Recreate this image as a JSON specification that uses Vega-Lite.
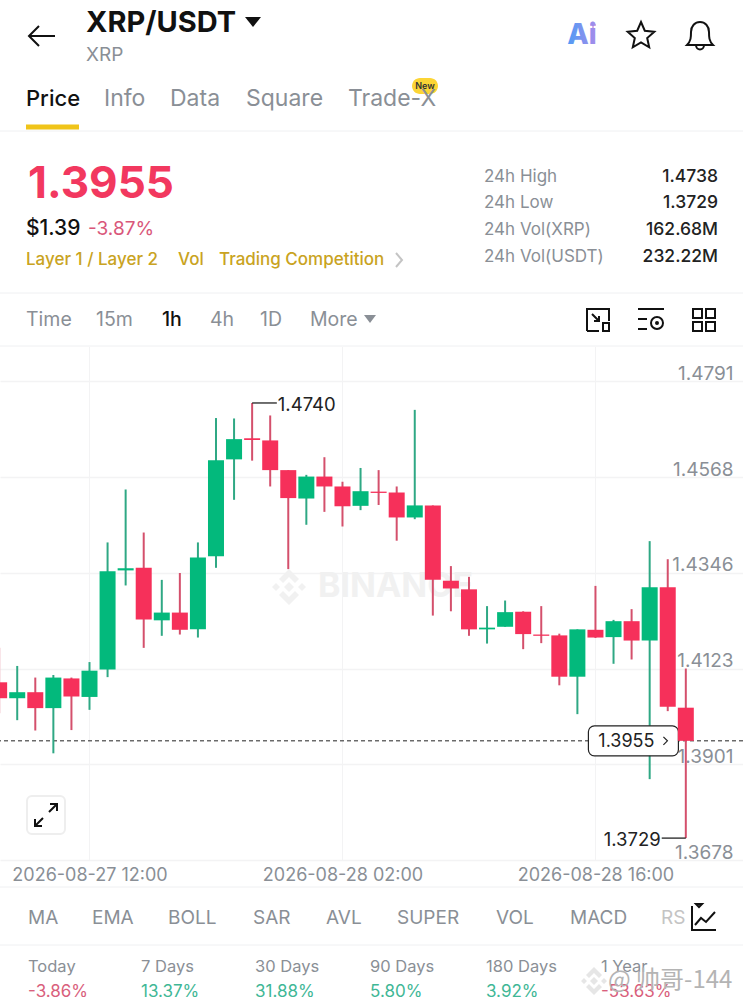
{
  "$schema": "https://vega.github.io/schema/vega-lite/v6.json",
  "description": "XRP/USDT 1h candles in a trading app screen.",
  "width": 743,
  "height": 1006,
  "padding": 0,
  "autosize": {"type": "none"},
  "background": "white",
  "config": {"view": {"stroke": null}, "text": {"font": "Inter"}},
  "datasets": {
    "candles": [
      {"time":"2026-08-27T07:00:00Z","open":1.4091,"close":1.4054,"high":1.4171,"low":1.4019,"dir":"down"},
      {"time":"2026-08-27T08:00:00Z","open":1.4054,"close":1.4068,"high":1.4129,"low":1.4003,"dir":"up"},
      {"time":"2026-08-27T09:00:00Z","open":1.4068,"close":1.4031,"high":1.4102,"low":1.3979,"dir":"down"},
      {"time":"2026-08-27T10:00:00Z","open":1.4031,"close":1.4102,"high":1.4108,"low":1.3926,"dir":"up"},
      {"time":"2026-08-27T11:00:00Z","open":1.4100,"close":1.4058,"high":1.4102,"low":1.3980,"dir":"down"},
      {"time":"2026-08-27T12:00:00Z","open":1.4057,"close":1.4118,"high":1.4138,"low":1.4027,"dir":"up"},
      {"time":"2026-08-27T13:00:00Z","open":1.4121,"close":1.4349,"high":1.4416,"low":1.4103,"dir":"up"},
      {"time":"2026-08-27T14:00:00Z","open":1.4351,"close":1.4356,"high":1.4539,"low":1.4316,"dir":"up"},
      {"time":"2026-08-27T15:00:00Z","open":1.4357,"close":1.4237,"high":1.4439,"low":1.4171,"dir":"down"},
      {"time":"2026-08-27T16:00:00Z","open":1.4235,"close":1.4253,"high":1.4329,"low":1.4199,"dir":"up"},
      {"time":"2026-08-27T17:00:00Z","open":1.4253,"close":1.4213,"high":1.4345,"low":1.4202,"dir":"down"},
      {"time":"2026-08-27T18:00:00Z","open":1.4214,"close":1.4381,"high":1.4416,"low":1.4195,"dir":"up"},
      {"time":"2026-08-27T19:00:00Z","open":1.4384,"close":1.4607,"high":1.4705,"low":1.4357,"dir":"up"},
      {"time":"2026-08-27T20:00:00Z","open":1.4609,"close":1.4656,"high":1.4704,"low":1.4515,"dir":"up"},
      {"time":"2026-08-27T21:00:00Z","open":1.4658,"close":1.4654,"high":1.4740,"low":1.4606,"dir":"down"},
      {"time":"2026-08-27T22:00:00Z","open":1.4653,"close":1.4584,"high":1.4711,"low":1.4546,"dir":"down"},
      {"time":"2026-08-27T23:00:00Z","open":1.4584,"close":1.4519,"high":1.4584,"low":1.4354,"dir":"down"},
      {"time":"2026-08-28T00:00:00Z","open":1.4518,"close":1.4569,"high":1.4573,"low":1.4457,"dir":"up"},
      {"time":"2026-08-28T01:00:00Z","open":1.4569,"close":1.4546,"high":1.4614,"low":1.4487,"dir":"down"},
      {"time":"2026-08-28T02:00:00Z","open":1.4546,"close":1.4500,"high":1.4557,"low":1.4453,"dir":"down"},
      {"time":"2026-08-28T03:00:00Z","open":1.4501,"close":1.4535,"high":1.4589,"low":1.4491,"dir":"up"},
      {"time":"2026-08-28T04:00:00Z","open":1.4534,"close":1.4531,"high":1.4584,"low":1.4503,"dir":"down"},
      {"time":"2026-08-28T05:00:00Z","open":1.4532,"close":1.4474,"high":1.4546,"low":1.4420,"dir":"down"},
      {"time":"2026-08-28T06:00:00Z","open":1.4474,"close":1.4502,"high":1.4724,"low":1.4470,"dir":"up"},
      {"time":"2026-08-28T07:00:00Z","open":1.4502,"close":1.4329,"high":1.4502,"low":1.4246,"dir":"down"},
      {"time":"2026-08-28T08:00:00Z","open":1.4327,"close":1.4309,"high":1.4361,"low":1.4256,"dir":"down"},
      {"time":"2026-08-28T09:00:00Z","open":1.4307,"close":1.4214,"high":1.4336,"low":1.4199,"dir":"down"},
      {"time":"2026-08-28T10:00:00Z","open":1.4214,"close":1.4218,"high":1.4268,"low":1.4181,"dir":"up"},
      {"time":"2026-08-28T11:00:00Z","open":1.4220,"close":1.4254,"high":1.4281,"low":1.4220,"dir":"up"},
      {"time":"2026-08-28T12:00:00Z","open":1.4255,"close":1.4203,"high":1.4256,"low":1.4168,"dir":"down"},
      {"time":"2026-08-28T13:00:00Z","open":1.4202,"close":1.4199,"high":1.4268,"low":1.4182,"dir":"down"},
      {"time":"2026-08-28T14:00:00Z","open":1.4200,"close":1.4104,"high":1.4204,"low":1.4084,"dir":"down"},
      {"time":"2026-08-28T15:00:00Z","open":1.4104,"close":1.4214,"high":1.4214,"low":1.4017,"dir":"up"},
      {"time":"2026-08-28T16:00:00Z","open":1.4213,"close":1.4195,"high":1.4315,"low":1.4194,"dir":"down"},
      {"time":"2026-08-28T17:00:00Z","open":1.4196,"close":1.4233,"high":1.4236,"low":1.4134,"dir":"up"},
      {"time":"2026-08-28T18:00:00Z","open":1.4233,"close":1.4188,"high":1.4261,"low":1.4144,"dir":"down"},
      {"time":"2026-08-28T19:00:00Z","open":1.4188,"close":1.4312,"high":1.4419,"low":1.3866,"dir":"up"},
      {"time":"2026-08-28T20:00:00Z","open":1.4312,"close":1.4034,"high":1.4377,"low":1.4024,"dir":"down"},
      {"time":"2026-08-28T21:00:00Z","open":1.4032,"close":1.3955,"high":1.4123,"low":1.3729,"dir":"down"}
    ],
    "ticks": [
      {"time":"2026-08-27T12:00:00Z"},
      {"time":"2026-08-28T02:00:00Z"},
      {"time":"2026-08-28T16:00:00Z"}
    ],
    "extremes": [
      {"time":"2026-08-27T21:00:00Z","labelTime":"2026-08-27T22:22:00Z","price":1.4740,"label":"1.4740","side":"high"},
      {"time":"2026-08-28T21:00:00Z","labelTime":"2026-08-28T19:40:00Z","price":1.3729,"label":"1.3729","side":"low"}
    ],
    "last": [
      {"time":"2026-08-28T18:06:00Z","price":1.3955,"label":"1.3955"}
    ],
    "lines": [
      {"row":6,"col":-1,"colEnd":45,"role":"line"},
      {"row":14,"col":-1,"colEnd":45,"role":"line"},
      {"row":16,"col":-1,"colEnd":45,"role":"line"},
      {"row":19,"col":-1,"colEnd":45,"role":"line"},
      {"row":21,"col":-1,"colEnd":45,"role":"line"},
      {"row":5,"col":0,"colEnd":4,"role":"accent"}
    ],
    "icons": [
      {"icon":"back","col":2,"row":1,"role":"ink"},
      {"icon":"star","col":39,"row":1,"role":"ink"},
      {"icon":"bell","col":42,"row":1,"role":"ink"},
      {"icon":"plus","col":34,"row":1,"role":"aiPlus"},
      {"icon":"chevron","col":28,"row":13,"role":"indFade"},
      {"icon":"panel","col":36,"row":15,"role":"ink"},
      {"icon":"settings","col":40,"row":15,"role":"ink"},
      {"icon":"grid","col":43,"row":15,"role":"ink"},
      {"icon":"box","col":3,"row":18,"role":"box"},
      {"icon":"expand","col":3,"row":18,"role":"ink"},
      {"icon":"chart","col":43,"row":20,"role":"ink"}
    ],
    "solids": [
      {"icon":"caret","col":18,"row":0,"role":"ink"},
      {"icon":"caretSmall","col":26,"row":15,"role":"tf"},
      {"icon":"badge","col":29,"row":3,"role":"badge"},
      {"icon":"logo","col":21,"row":17,"role":"wmBig"},
      {"icon":"logoSmall","col":35,"row":23,"role":"wmLogo"}
    ],
    "texts": [
      {"text":"XRP/USDT","col":5,"row":0,"role":"title"},
      {"text":"XRP","col":5,"row":2,"role":"sub"},
      {"text":"Price","col":0,"row":4,"role":"tabOn"},
      {"text":"Info","col":9,"row":4,"role":"tab"},
      {"text":"Data","col":13,"row":4,"role":"tab"},
      {"text":"Square","col":17,"row":4,"role":"tab"},
      {"text":"Trade-X","col":25,"row":4,"role":"tab"},
      {"text":"1.3955","col":1,"row":8,"role":"big"},
      {"text":"$1.39","col":0,"row":10,"role":"price"},
      {"text":"-3.87%","col":6,"row":10,"role":"chg"},
      {"text":"Layer 1 / Layer 2","col":0,"row":13,"role":"chip"},
      {"text":"Vol","col":14,"row":13,"role":"chip"},
      {"text":"Trading Competition","col":16,"row":13,"role":"chip"},
      {"text":"24h High","col":30,"row":7,"role":"stat"},
      {"text":"24h Low","col":30,"row":9,"role":"stat"},
      {"text":"24h Vol(XRP)","col":30,"row":11,"role":"stat"},
      {"text":"24h Vol(USDT)","col":30,"row":12,"role":"stat"},
      {"text":"Time","col":0,"row":15,"role":"tf"},
      {"text":"15m","col":8,"row":15,"role":"tf"},
      {"text":"1h","col":11,"row":15,"role":"tfOn"},
      {"text":"4h","col":15,"row":15,"role":"tf"},
      {"text":"1D","col":20,"row":15,"role":"tf"},
      {"text":"More","col":22,"row":15,"role":"tf"},
      {"text":"BINANCE","col":23,"row":17,"role":"wmBig"},
      {"text":"MA","col":1,"row":20,"role":"ind"},
      {"text":"EMA","col":7,"row":20,"role":"ind"},
      {"text":"BOLL","col":12,"row":20,"role":"ind"},
      {"text":"SAR","col":18,"row":20,"role":"ind"},
      {"text":"AVL","col":24,"row":20,"role":"ind"},
      {"text":"SUPER","col":27,"row":20,"role":"ind"},
      {"text":"VOL","col":32,"row":20,"role":"ind"},
      {"text":"MACD","col":33,"row":20,"role":"ind"},
      {"text":"RS","col":41,"row":20,"role":"indFade"},
      {"text":"Today","col":1,"row":22,"role":"period"},
      {"text":"7 Days","col":10,"row":22,"role":"period"},
      {"text":"30 Days","col":19,"row":22,"role":"period"},
      {"text":"90 Days","col":26,"row":22,"role":"period"},
      {"text":"180 Days","col":31,"row":22,"role":"period"},
      {"text":"1 Year","col":37,"row":22,"role":"period"},
      {"text":"-3.86%","col":1,"row":24,"role":"neg"},
      {"text":"13.37%","col":10,"row":24,"role":"pos"},
      {"text":"31.88%","col":19,"row":24,"role":"pos"},
      {"text":"5.80%","col":26,"row":24,"role":"pos"},
      {"text":"3.92%","col":31,"row":24,"role":"pos"},
      {"text":"-53.63%","col":37,"row":24,"role":"neg"}
    ],
    "values": [
      {"text":"1.4738","col":44,"row":7,"role":"statV"},
      {"text":"1.3729","col":44,"row":9,"role":"statV"},
      {"text":"162.68M","col":44,"row":11,"role":"statV"},
      {"text":"232.22M","col":44,"row":12,"role":"statV"}
    ],
    "badgeText": [{"text":"New","col":29,"row":3,"role":"new"}],
    "aiText": [{"text":"Ai","col":34,"row":1,"role":"ai"}],
    "credit": [{"text":"@ 帅哥-144","col":38,"row":23,"role":"wm"}]
  },
  "layer": [
    {
      "encoding": {
        "x": {"field":"col","type":"quantitative","axis":null,"scale":{
          "domain":[-1,0,1,2,3,4,5,6,7,8,9,10,11,12,13,14,15,16,17,18,19,20,21,22,23,24,25,26,27,28,29,30,31,32,33,34,35,36,37,38,39,40,41,42,43,44,45],
          "range":[0,26,28,42,46,79,86,88,92,96,104,141,162,168,170,178,210,219,246,253,255,260,289,310,318,326,348,370,397,399,425,484,486,496,570,582,594,598,601,608,641,651,661,700,704,718,743]}},
        "y": {"field":"row","type":"quantitative","axis":null,"scale":{
          "domain":[0,1,2,3,4,5,6,7,8,9,10,11,12,13,14,15,16,17,18,19,20,21,22,23,24],
          "range":[23,36,55,86,99,127,131,177,185,203,229,230,257,260,293,320,346,587,815,887,918,945,967,981,992]}},
        "color": {"field":"role","type":"nominal","legend":null,"scale":{
          "domain":["title","sub","tab","tabOn","new","big","price","chg","chip","stat","statV","tf","tfOn","ind","indFade","period","neg","pos","wmBig","wm","wmLogo","ink","aiPlus","box","badge","line","accent","ai"],
          "range":["#111111","#8a8f96","#8a8f96","#111111","#333333","#f2385f","#111111","#d9577a","#c9a322","#8a8f96","#222222","#8a8f96","#111111","#8a8f96","#c4c4c4","#8a8f96","#d9607c","#3fb796","#f1f1f1","#b4b4b4","#e6e6e6","#111111","#d8aee8","#eeeeee","#fcd535","#eff0f2","#f0c419","#6c8cf0"]}}
      },
      "layer": [
        {
          "data": {"name":"lines"},
          "transform": [{"filter":"datum.role === 'line'"}],
          "mark": {"type":"rule","strokeWidth":1},
          "encoding": {"x2":{"field":"colEnd"}}
        },
        {
          "data": {"name":"lines"},
          "transform": [{"filter":"datum.role === 'accent'"}],
          "mark": {"type":"rule","strokeWidth":5},
          "encoding": {"x2":{"field":"colEnd"}}
        },
        {
          "encoding": {"shape":{"field":"icon","type":"nominal","legend":null,"scale":{
            "domain":["caret","caretSmall","badge","logo","logoSmall","back","star","bell","plus","chevron","panel","settings","grid","box","expand","chart"],
            "range":[
              "M-8,-6H8L0,4Z",
              "M-6,-5H6L0,3Z",
              "M-5,-8H5A8,8,0,0,1,5,8H-5A8,8,0,0,1,-5,-8Z",
              "M0,-5L5,0L0,5L-5,0ZM-13,-4L-9,0L-13,4L-17,0ZM13,-4L17,0L13,4L9,0ZM0,-18L10,-8L6,-4L0,-10L-6,-4L-10,-8ZM0,18L10,8L6,4L0,10L-6,4L-10,8Z",
              "M0,-4L4,0L0,4L-4,0ZM-10,-3L-7,0L-10,3L-13,0ZM10,-3L13,0L10,3L7,0ZM0,-14L8,-6L5,-3L0,-8L-5,-3L-8,-6ZM0,14L8,6L5,3L0,8L-5,3L-8,6Z",
              "M13,0H-13M-3,-10L-13,0L-3,10",
              "M0,-14L3.8,-5.3L13.3,-4.3L6.2,2L8.2,11.3L0,6.5L-8.2,11.3L-6.2,2L-13.3,-4.3L-3.8,-5.3Z",
              "M-13,9C-9,5,-9,1,-9,-4C-9,-10,-5,-14,0,-14C5,-14,9,-10,9,-4C9,1,9,5,13,9ZM-4,9C-4,15,4,15,4,9",
              "M8,-11H14M11,-14V-8",
              "M-3,-7L3,0L-3,7",
              "M-11,11V-11H11V1M-11,11H1M5,3H11V11H5ZM-6,-6L1,1M1,-4V1H-4",
              "M-13,-11H13M-13,-1H-4M-13,9H-4M12,3A6,6,0,1,1,0,3A6,6,0,1,1,12,3ZM7,3A1,1,0,1,1,5,3A1,1,0,1,1,7,3Z",
              "M-11,-11H-2V-2H-11ZM2,-11H11V-2H2ZM-11,2H-2V11H-11ZM2,2H11V11H2Z",
              "M-14,-19H14A5,5,0,0,1,19,-14V14A5,5,0,0,1,14,19H-14A5,5,0,0,1,-19,14V-14A5,5,0,0,1,-14,-19Z",
              "M-11,11L-3,3M-11,4V11H-4M11,-11L3,-3M4,-11H11V-4",
              "M-12,-12V12H12M-9,7L-3,0L2,4L11,-6M-8,-14H-2L-5,-11Z"
            ]}}},
          "layer": [
            {
              "data": {"name":"solids"},
              "mark": {"type":"point","filled":true,"size":4,"opacity":1}
            },
            {
              "data": {"name":"icons"},
              "mark": {"type":"point","filled":false,"size":4,"strokeWidth":2,"opacity":1}
            }
          ]
        },
        {
          "encoding": {
            "text": {"field":"text"},
            "size": {"field":"role","type":"nominal","legend":null,"scale":{"type":"ordinal",
              "domain":["title","sub","tab","tabOn","new","big","price","chg","chip","stat","statV","tf","tfOn","ind","indFade","period","neg","pos","wmBig","wm","ai"],
              "range":[29,19,23,22,9,44,21,19,17,17,17.5,19.5,19.5,19,19,16.5,17,17,34,24,28]}}
          },
          "layer": [
            {
              "data": {"name":"texts"},
              "transform": [{"filter":"indexof(['tab','sub','chg','stat','tf','ind','indFade','period','neg','pos'], datum.role) >= 0"}],
              "mark": {"type":"text","align":"left","baseline":"middle"}
            },
            {
              "data": {"name":"texts"},
              "transform": [{"filter":"indexof(['tabOn','price','tfOn','chip'], datum.role) >= 0"}],
              "mark": {"type":"text","align":"left","baseline":"middle","fontWeight":500}
            },
            {
              "data": {"name":"texts"},
              "transform": [{"filter":"indexof(['title','big','wmBig'], datum.role) >= 0"}],
              "mark": {"type":"text","align":"left","baseline":"middle","fontWeight":700}
            },
            {
              "data": {"name":"values"},
              "mark": {"type":"text","align":"right","baseline":"middle","fontWeight":500}
            },
            {
              "data": {"name":"badgeText"},
              "mark": {"type":"text","align":"center","baseline":"middle","fontWeight":600}
            },
            {
              "data": {"name":"aiText"},
              "mark": {"type":"text","align":"center","baseline":"middle","fontWeight":800},
              "encoding": {"color":{"value":{"x1":0,"y1":0,"x2":1,"y2":0,"gradient":"linear","stops":[{"offset":0,"color":"#4f9cf5"},{"offset":1,"color":"#a78bea"}]}}}
            },
            {
              "data": {"name":"credit"},
              "mark": {"type":"text","align":"left","baseline":"middle","font":"Noto Sans CJK SC"}
            }
          ]
        }
      ]
    },
    {
      "data": {"name":"ticks"},
      "mark": {"type":"rule","color":"#f3f3f4","strokeWidth":1},
      "encoding": {
        "x": {"field":"time","type":"temporal","scale":{"type":"utc","nice":false,"domain":["2026-08-27T07:02:49Z","2026-08-29T00:09:54Z"]},
          "axis":{"orient":"bottom","offset":-136,"title":null,"grid":false,"domain":false,"ticks":false,"format":"%Y-%m-%d %H:%M","values":["2026-08-27T12:00:00Z","2026-08-28T02:00:00Z","2026-08-28T16:00:00Z"],"labelFont":"Inter","labelFontSize":18,"labelColor":"#8a8f96","labelPadding":5,"labelBaseline":"middle","labelFlush":false,"labelOverlap":false}},
        "y": {"datum":1.487,"scale":{"nice":false,"zero":false,"domain":[1.33389,1.56763]},"axis":null},
        "y2": {"datum":1.3678}
      }
    },
    {
      "data": {"name":"last"},
      "mark": {"type":"rule","color":"#222222","strokeWidth":1,"strokeDash":[4,3]},
      "encoding": {
        "y": {"field":"price","type":"quantitative","scale":{"nice":false,"zero":false,"domain":[1.33389,1.56763]},
          "axis":{"orient":"right","title":null,"values":[1.4791,1.4568,1.4346,1.4123,1.3901,1.3678],"format":".4f","grid":true,"gridColor":"#f3f3f4","gridWidth":1.5,"domain":false,"ticks":false,"labelFont":"Inter","labelFontSize":19,"labelColor":"#8a8f96","labelAlign":"right","labelPadding":-10,"labelOffset":-8,"labelBaseline":"middle","labelFlush":false,"labelOverlap":false}}
      }
    },
    {
      "layer": [
        {
          "data": {"name":"candles"},
          "mark": {"type":"rule","strokeWidth":2},
          "encoding": {
            "x": {"field":"time","type":"temporal","axis":null,"scale":{"type":"utc","nice":false,"domain":["2026-08-27T07:02:49Z","2026-08-29T00:09:54Z"]}},
            "y": {"field":"high","type":"quantitative","axis":null,"scale":{"nice":false,"zero":false,"domain":[1.33389,1.56763]}},
            "y2": {"field":"low"},
            "color": {"field":"dir","type":"nominal","legend":null,"scale":{"domain":["up","down"],"range":["#2fa884","#d4506c"]}}
          }
        },
        {
          "data": {"name":"extremes"},
          "mark": {"type":"rule","strokeWidth":1.3,"color":"#222222"},
          "encoding": {
            "x": {"field":"time","type":"temporal","axis":null,"scale":{"type":"utc","nice":false,"domain":["2026-08-27T07:02:49Z","2026-08-29T00:09:54Z"]}},
            "x2": {"field":"labelTime"},
            "y": {"field":"price","type":"quantitative","axis":null,"scale":{"nice":false,"zero":false,"domain":[1.33389,1.56763]}}
          }
        },
        {
          "data": {"name":"extremes"},
          "transform": [{"filter":"datum.side === 'high'"}],
          "mark": {"type":"text","align":"left","baseline":"middle","font":"Inter","fontSize":18.5,"color":"#222222","dx":1,"dy":2},
          "encoding": {
            "x": {"field":"labelTime","type":"temporal","axis":null,"scale":{"type":"utc","nice":false,"domain":["2026-08-27T07:02:49Z","2026-08-29T00:09:54Z"]}},
            "y": {"field":"price","type":"quantitative","axis":null,"scale":{"nice":false,"zero":false,"domain":[1.33389,1.56763]}},
            "text": {"field":"label"}
          }
        },
        {
          "data": {"name":"extremes"},
          "transform": [{"filter":"datum.side === 'low'"}],
          "mark": {"type":"text","align":"right","baseline":"middle","font":"Inter","fontSize":18.5,"color":"#222222","dx":-1,"dy":2},
          "encoding": {
            "x": {"field":"labelTime","type":"temporal","axis":null,"scale":{"type":"utc","nice":false,"domain":["2026-08-27T07:02:49Z","2026-08-29T00:09:54Z"]}},
            "y": {"field":"price","type":"quantitative","axis":null,"scale":{"nice":false,"zero":false,"domain":[1.33389,1.56763]}},
            "text": {"field":"label"}
          }
        },
        {
          "data": {"name":"last"},
          "mark": {"type":"point","filled":true,"fill":"#ffffff","stroke":"#222222","strokeWidth":1.2,"opacity":1,"size":4,"shape":"M-39,-15H39A6,6,0,0,1,45,-9V9A6,6,0,0,1,39,15H-39A6,6,0,0,1,-45,9V-9A6,6,0,0,1,-39,-15ZM30,-4L34,0L30,4"},
          "encoding": {
            "x": {"field":"time","type":"temporal","axis":null,"scale":{"type":"utc","nice":false,"domain":["2026-08-27T07:02:49Z","2026-08-29T00:09:54Z"]}},
            "y": {"field":"price","type":"quantitative","axis":null,"scale":{"nice":false,"zero":false,"domain":[1.33389,1.56763]}}
          }
        },
        {
          "data": {"name":"candles"},
          "mark": {"type":"rule","strokeWidth":16,"strokeCap":"butt"},
          "encoding": {
            "x": {"field":"time","type":"temporal","axis":null,"scale":{"type":"utc","nice":false,"domain":["2026-08-27T07:02:49Z","2026-08-29T00:09:54Z"]}},
            "y": {"field":"open","type":"quantitative","axis":null,"scale":{"nice":false,"zero":false,"domain":[1.33389,1.56763]}},
            "y2": {"field":"close"},
            "stroke": {"field":"dir","type":"nominal","legend":null,"scale":{"domain":["up","down"],"range":["#03b97c","#f6305a"]}}
          }
        },
        {
          "data": {"name":"last"},
          "mark": {"type":"text","align":"center","baseline":"middle","font":"Inter","fontSize":18,"color":"#222222","dx":-7,"dy":1},
          "encoding": {
            "x": {"field":"time","type":"temporal","axis":null,"scale":{"type":"utc","nice":false,"domain":["2026-08-27T07:02:49Z","2026-08-29T00:09:54Z"]}},
            "y": {"field":"price","type":"quantitative","axis":null,"scale":{"nice":false,"zero":false,"domain":[1.33389,1.56763]}},
            "text": {"field":"label"}
          }
        }
      ]
    }
  ],
  "resolve": {"scale":{"x":"independent","y":"independent","color":"independent","stroke":"independent","shape":"independent","size":"independent"}}
}
